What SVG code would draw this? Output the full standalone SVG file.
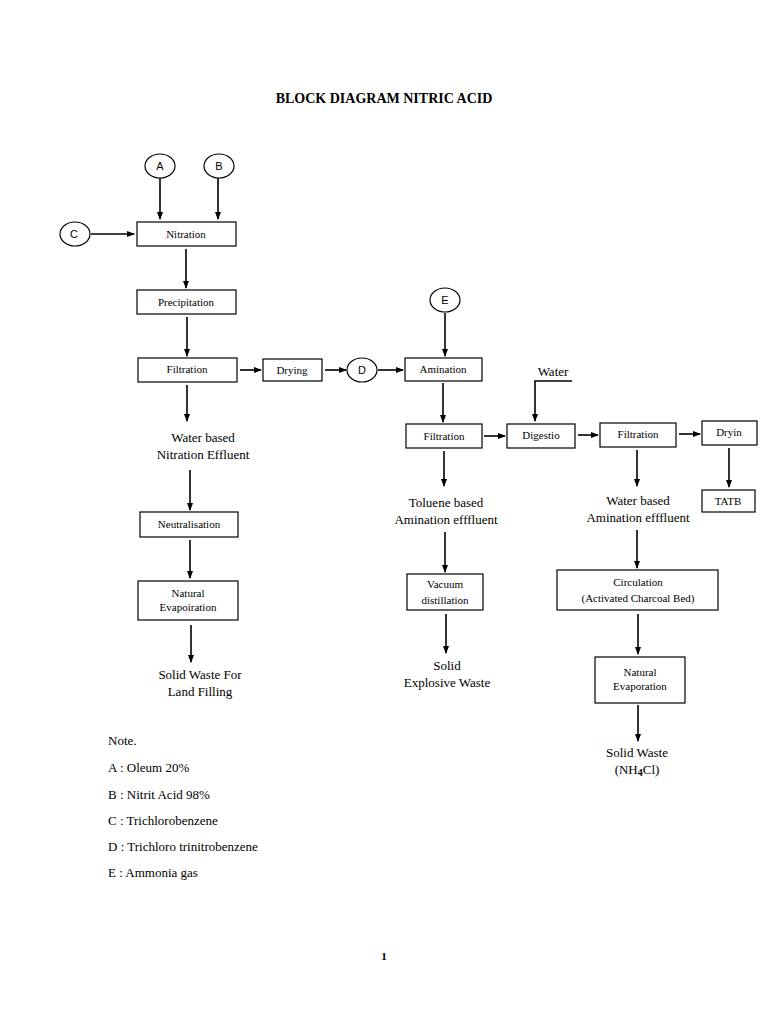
<svg xmlns="http://www.w3.org/2000/svg" width="768" height="1024" viewBox="0 0 768 1024">
<style>
text{font-family:"Liberation Serif",serif;fill:#000}
.b rect{fill:#fff;stroke:#000;stroke-width:1.2}
.b text{font-size:11px;text-anchor:middle}
.c ellipse{fill:#fff;stroke:#000;stroke-width:1.2}
.c text{font-family:"Liberation Sans",sans-serif;font-size:11px;text-anchor:middle}
.t{font-size:13px;text-anchor:middle}
.n{font-size:13px}
#conn line,#conn polyline{stroke:#000;stroke-width:1.6;fill:none}
</style>
<defs><marker id="ah" markerWidth="8" markerHeight="8" refX="7" refY="4" orient="auto" markerUnits="userSpaceOnUse"><path d="M0,1 L8,4 L0,7 Z" fill="#000"/></marker></defs>
<rect width="768" height="1024" fill="#fff"/>
<text x="384" y="103" style="font-size:14px;font-weight:bold;text-anchor:middle">BLOCK DIAGRAM NITRIC ACID</text>
<g id="conn">
<line x1="160" y1="178" x2="160" y2="219" marker-end="url(#ah)"/>
<line x1="218" y1="178" x2="218" y2="219" marker-end="url(#ah)"/>
<line x1="91" y1="234" x2="134" y2="234" marker-end="url(#ah)"/>
<line x1="186" y1="249" x2="186" y2="288" marker-end="url(#ah)"/>
<line x1="187" y1="317" x2="187" y2="356" marker-end="url(#ah)"/>
<line x1="240" y1="370" x2="261" y2="370" marker-end="url(#ah)"/>
<line x1="325" y1="370" x2="346" y2="370" marker-end="url(#ah)"/>
<line x1="378" y1="370" x2="403" y2="370" marker-end="url(#ah)"/>
<line x1="445" y1="313" x2="445" y2="356" marker-end="url(#ah)"/>
<line x1="187" y1="385" x2="187" y2="421" marker-end="url(#ah)"/>
<line x1="190" y1="470" x2="190" y2="510" marker-end="url(#ah)"/>
<line x1="190" y1="540" x2="190" y2="578" marker-end="url(#ah)"/>
<line x1="191" y1="625" x2="191" y2="662" marker-end="url(#ah)"/>
<line x1="443" y1="383" x2="443" y2="422" marker-end="url(#ah)"/>
<polyline points="572,381 535,381 535,421" marker-end="url(#ah)"/>
<line x1="484" y1="436" x2="505" y2="436" marker-end="url(#ah)"/>
<line x1="578" y1="435" x2="598" y2="435" marker-end="url(#ah)"/>
<line x1="679" y1="434" x2="700" y2="434" marker-end="url(#ah)"/>
<line x1="444" y1="451" x2="444" y2="486" marker-end="url(#ah)"/>
<line x1="445" y1="532" x2="445" y2="572" marker-end="url(#ah)"/>
<line x1="446" y1="614" x2="446" y2="653" marker-end="url(#ah)"/>
<line x1="637" y1="450" x2="637" y2="486" marker-end="url(#ah)"/>
<line x1="729" y1="448" x2="729" y2="487" marker-end="url(#ah)"/>
<line x1="637" y1="530" x2="637" y2="568" marker-end="url(#ah)"/>
<line x1="638" y1="614" x2="638" y2="654" marker-end="url(#ah)"/>
<line x1="638" y1="705" x2="638" y2="741" marker-end="url(#ah)"/>
</g>
<g id="A" class="c"><ellipse cx="160" cy="166" rx="15" ry="12"/><text x="160" y="170">A</text></g>
<g id="B" class="c"><ellipse cx="219" cy="166" rx="15" ry="12"/><text x="219" y="170">B</text></g>
<g id="C" class="c"><ellipse cx="75" cy="234" rx="15" ry="12"/><text x="74" y="238">C</text></g>
<g id="D" class="c"><ellipse cx="362" cy="370" rx="15" ry="12"/><text x="362" y="374">D</text></g>
<g id="E" class="c"><ellipse cx="445" cy="300" rx="15" ry="12"/><text x="445" y="304">E</text></g>
<g id="nitration" class="b"><rect x="137" y="222" width="99" height="24"/><text x="186" y="238">Nitration</text></g>
<g id="precipitation" class="b"><rect x="137" y="290" width="99" height="24"/><text x="186" y="306">Precipitation</text></g>
<g id="filtration1" class="b"><rect x="138" y="358" width="99" height="24"/><text x="187" y="373">Filtration</text></g>
<g id="drying" class="b"><rect x="263" y="359" width="59" height="22"/><text x="292" y="374">Drying</text></g>
<g id="amination" class="b"><rect x="405" y="358" width="77" height="23"/><text x="443" y="373">Amination</text></g>
<g id="neutralisation" class="b"><rect x="140" y="512" width="98" height="25"/><text x="189" y="528">Neutralisation</text></g>
<g id="evap1" class="b"><rect x="138" y="581" width="100" height="39"/><text x="188" y="597">Natural</text><text x="188" y="611">Evapoiration</text></g>
<g id="filtration2" class="b"><rect x="406" y="424" width="76" height="24"/><text x="444" y="440">Filtration</text></g>
<g id="digestio" class="b"><rect x="507" y="424" width="68" height="24"/><text x="541" y="439">Digestio</text></g>
<g id="filtration3" class="b"><rect x="600" y="423" width="76" height="24"/><text x="638" y="438">Filtration</text></g>
<g id="dryin" class="b"><rect x="702" y="421" width="55" height="24"/><text x="729" y="436">Dryin</text></g>
<g id="tatb" class="b"><rect x="702" y="490" width="53" height="22"/><text x="728" y="505">TATB</text></g>
<g id="vacuum" class="b"><rect x="407" y="574" width="76" height="36"/><text x="445" y="588">Vacuum</text><text x="445" y="604">distillation</text></g>
<g id="circulation" class="b"><rect x="557" y="570" width="161" height="40"/><text x="638" y="586">Circulation</text><text x="638" y="602">(Activated Charcoal Bed)</text></g>
<g id="evap2" class="b"><rect x="595" y="657" width="90" height="46"/><text x="640" y="676">Natural</text><text x="640" y="690">Evaporation</text></g>
<text class="t" x="553" y="376">Water</text>
<text class="t" x="203" y="442">Water based</text><text class="t" x="203" y="459">Nitration Effluent</text>
<text class="t" x="200" y="679">Solid Waste For</text><text class="t" x="200" y="696">Land Filling</text>
<text class="t" x="446" y="507">Toluene based</text><text class="t" x="446" y="524">Amination efffluent</text>
<text class="t" x="447" y="670">Solid</text><text class="t" x="447" y="687">Explosive Waste</text>
<text class="t" x="638" y="505">Water based</text><text class="t" x="638" y="522">Amination efffluent</text>
<text class="t" x="637" y="757">Solid Waste</text><text class="t" x="637" y="774">(NH<tspan font-weight="bold" font-size="10" dy="2">4</tspan><tspan dy="-2">Cl)</tspan></text>
<text class="n" x="108" y="745">Note.</text>
<text class="n" x="108" y="772">A : Oleum 20%</text>
<text class="n" x="108" y="799">B : Nitrit Acid 98%</text>
<text class="n" x="108" y="825">C : Trichlorobenzene</text>
<text class="n" x="108" y="851">D : Trichloro trinitrobenzene</text>
<text class="n" x="108" y="877">E : Ammonia gas</text>
<text x="384" y="960" style="font-size:11px;font-weight:bold;text-anchor:middle">1</text>
</svg>
